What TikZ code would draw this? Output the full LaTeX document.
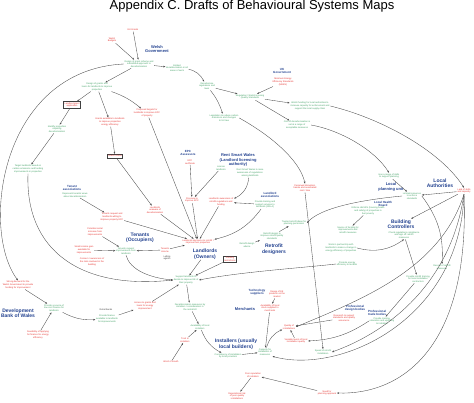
\documentclass[tikz,border=0pt]{standalone}
\usepackage{fontspec}
\setmainfont{Liberation Sans}
\usetikzlibrary{arrows.meta}
\definecolor{cRed}{HTML}{E4322E}
\definecolor{cGrn}{HTML}{3F9F63}
\definecolor{cBlu}{HTML}{22418F}
\definecolor{cLin}{HTML}{4A4A4A}
\begin{document}
\begin{tikzpicture}[x=1pt,y=-1pt,
 gtx/.style={text=cGrn,font=\fontsize{2.3}{2.7}\selectfont,align=center,inner sep=0.6pt},
 rtx/.style={gtx,text=cRed},
 dtx/.style={gtx,text=black!75},
 rbox/.style={rtx,draw=black!75,line width=0.4pt,inner sep=1pt},
 blab/.style={text=cBlu,font=\fontsize{5}{5.5}\selectfont\bfseries,align=center,inner sep=0.5pt},
 bmd/.style={blab,font=\fontsize{4}{4.4}\selectfont\bfseries},
 bsm/.style={blab,font=\fontsize{3}{3.3}\selectfont\bfseries},
 arr/.style={draw=cLin,line width=0.35pt,-{Stealth[length=2.2pt,width=1.7pt]}}]
\useasboundingbox (0,0) rectangle (474,403);
\node[font=\fontsize{13}{13}\selectfont,inner sep=0pt] (title) at (252,6) {Appendix C. Drafts of Behavioural Systems Maps};
% top
\node[rtx] (eu) at (133,30) {EU Grants};
\node[rtx] (wealth) at (112,40) {Welsh\\Budgets};
\node[bmd] (wg) at (157,49) {Welsh\\Government};
\node[gtx] (wg1) at (139,64) {Design of grant scheme and\\subsidised approach to\\decarbonisation};
\node[gtx] (wg2) at (177,68) {Embed\\decarbonisation in all\\areas of work};
\node[gtx] (wg3) at (207,86) {Decarbonise\\regulations and\\laws};
\node[gtx] (reg) at (250,97) {Regulation / Welsh Housing\\Quality Standards};
\node[bsm] (ukg) at (282,71) {UK\\Government};
\node[rtx] (mees) at (283,82) {Minimum Energy\\Efficiency Standards\\(MEES)};
\node[gtx] (fund) at (310,106) {Welsh funding for local authorities to\\increase capacity for enforcement and\\support the local supply chain};
\node[gtx] (cost) at (297,125) {Cost of decarbonisation is\\set at a range of\\acceptable measures};
\node[gtx] (legis) at (224,118) {Legislation to reduce carbon\\emissions and changes\\to UK law};
\node[rtx] (prop) at (147,113) {Proposed targets for\\landlords to improve EPC\\of property};
\node[gtx] (gd) at (97,87) {Design of grants and\\loans for landlords to improve\\properties};
\node[rbox] (rb1) at (72,105) {Landlord grant\\application};
\node[gtx] (idp) at (57,129) {Identify properties\\requiring\\decarbonisation};
\node[rtx] (grants) at (110,122) {Grants available to landlords\\to improve properties\\energy efficiency};
\node[gtx] (tgt) at (28,169) {Target landlords based on\\carbon emissions and funding\\improvements in properties};
\node[rbox] (rb2) at (115,156) {Grant criteria};
% tenants
\node[bsm] (ta) at (72,188) {Tenant\\associations};
\node[gtx] (ta1) at (75,195) {Represent tenants views\\about decarbonisation};
\node[rtx] (tenr) at (112,217) {Tenants request and\\landlords willing to\\improve property EPC};
\node[rtx] (rent) at (95,232) {Potential rental\\increase from\\improvements};
\node[rtx] (space) at (84,250) {Small income gain\\available for\\improvements};
\node[rtx] (concern) at (92,262) {Concern / awareness of\\the risks involved in the\\building};
\node[gtx] (tengr) at (126,251) {Tenants request\\improvements from\\landlords};
\node[blab] (ten) at (140,238) {Tenants\\(Occupiers)};
% landlords
\node[bsm] (epca) at (188,153) {EPC\\Assessors};
\node[rtx] (epc) at (190,162) {EPC\\certificate};
\node[rtx] (press) at (192,200) {Pressure to\\improve EPC};
\node[bmd] (rsw) at (238,160) {Rent Smart Wales\\(Landlord licensing\\authority)};
\node[gtx] (rsw1) at (221,168) {License\\landlords};
\node[gtx] (rsw2) at (250,173) {Rent Smart Wales to raise\\awareness of regulations\\among landlords};
\node[rtx] (lreg) at (221,202) {Landlords awareness of\\retrofit regulations and\\funding};
\node[bsm] (la) at (270,195) {Landlord\\associations};
\node[gtx] (la1) at (265,204.5) {Provide training and\\support services to\\landlords (NRLA)};
\node[rtx] (una) at (155,210) {Landlords\\unaware of\\decarbonisation};
\node[rtx] (hub) at (198,242) {Landlords decisions to retrofit /\\improve their properties};
\node[blab] (lo) at (205,254) {Landlords\\(Owners)};
\node[rtx] (tinc) at (165,250) {Tenants\\income};
\node[dtx] (agents) at (167,258) {Letting\\agents};
\node[rbox] (rb3) at (230,259) {Funding\\restrictions};
% retrofit designers
\node[rtx] (perc) at (305,188) {Perceived disruption,\\hassle and associated\\cost / time};
\node[gtx] (trust) at (294,223) {Trusted retrofit ideas for\\planning permission};
\node[gtx] (rd1) at (272,236) {Retrofit design to\\improve retrofit quality\\standards};
\node[gtx] (rd2) at (247,245) {Retrofit design\\advice};
\node[blab] (rdes) at (274,249) {Retrofit\\designers};
% local authorities
\node[gtx] (lpu1) at (389,176) {Has a range of skills\\to support planning};
\node[bmd] (lpu) at (391,187) {Local\\planning unit};
\node[blab] (laut) at (440,183) {Local\\Authorities};
\node[rtx] (lack) at (464,191) {Lack of skills\\and capacity};
\node[gtx] (lim) at (412,196) {Limited resources\\to enforce\\standards};
\node[bsm] (lhb) at (383,204) {Local Health\\Board};
\node[gtx] (lhb1) at (368,211) {Enforce HHSRS (housing health\\and safety) of properties in\\fuel poverty};
\node[blab] (bc) at (401,224) {Building\\Controllers};
\node[gtx] (bc1) at (404,235) {Check regulations compliance\\and sign off retrofit\\measures};
\node[gtx] (rec) at (442,267) {Record of retrofit\\measures};
\node[gtx] (g3) at (348,230) {Source of funding for\\improvements and\\retrofit measures};
\node[gtx] (g4) at (341,248) {Work in partnership with\\landlords to make a change in\\energy efficiency of properties};
\node[gtx] (g5) at (347,264) {Promote energy\\efficiency to tenants};
% supply chain
\node[bsm] (ts) at (257,292) {Technology\\suppliers};
\node[rtx] (range) at (277,294) {Range of EE\\products on the\\market};
\node[rtx] (avail) at (270,308) {Availability of local\\stock supplied to\\merchants};
\node[bmd] (merch) at (245,309) {Merchants};
\node[bsm] (pdb) at (355,308) {Professional\\design bodies};
\node[rtx] (res) at (344,318) {Research to support\\standards and quality\\assurance};
\node[rtx] (qual) at (289,327) {Quality of\\installations};
\node[rtx] (var) at (296,341) {Variable levels of local\\installation quality};
\node[gtx] (cap) at (265,352) {Capacity for\\installation of\\measures};
\node[gtx] (g6) at (323,352) {Speed of retrofit\\installation};
\node[blab] (inst) at (236,344) {Installers (usually\\local builders)};
\node[gtx] (inst1) at (228,356) {Consistency of installation\\by local providers};
\node[rtx] (poor) at (253,375) {Poor reputation\\of installers};
\node[rtx] (bad) at (237,396) {Reputational risk\\of poor quality\\installations};
\node[rtx] (need) at (327,393) {Need for\\planning approval};
\node[bsm] (ptb) at (377,313) {Professional\\trade bodies};
\node[gtx] (ptb1) at (382,321) {Provide training,\\education and upskilling\\to installers};
\node[gtx] (tr) at (418,279) {Provide retrofit training\\for local installation\\contractors};
% finance
\node[rtx] (sd) at (18,285) {Strong demand for the\\Welsh Government to provide\\funding for improvement};
\node[blab] (dbw) at (18,313) {Development\\Bank of Wales};
\node[gtx] (dbw1) at (54,308) {Provide a source of\\low-cost finance for\\landlords};
\node[rtx] (feas) at (38,335) {Feasibility of applying\\for finance for energy\\efficiency};
\node[dtx] (rbank) at (106,310) {Retail banks};
\node[gtx] (rbank1) at (107,319) {Provide finance\\available to landlords\\for improvements};
\node[gtx] (sup) at (186,280) {Support landlords to\\decide to improve EE of\\their property};
\node[rtx] (acc) at (145,306) {Access to grants and\\loans for energy\\improvement};
\node[gtx] (dec) at (190,307) {Decarbonisation measures by\\installers / consideration in\\the rental bill};
\node[gtx] (loc) at (200,327) {Availability of local\\installers};
\node[rtx] (tin) at (185,340) {Trust in\\installers};
\node[rtx] (wom) at (171,362) {Word of mouth};
% connectors
\draw[arr] (eu) -- (wg1);
\draw[arr] (wealth) -- (wg1);
\draw[arr] (wg1) -- (wg2);
\draw[arr] (wg2) to[bend left=25] (wg3);
\draw[arr] (wg3) -- (reg);
\draw[arr] (wg3) to[bend left=10] (legis);
\draw[arr] (mees) -- (reg);
\draw[arr] (reg) -- (fund);
\draw[arr] (reg) -- (cost);
\draw[arr] (wg1) -- (gd);
\draw[arr] (gd) -- (rb1);
\draw[arr] (rb1) -- (idp);
\draw[arr] (idp) -- (tgt);
\draw[arr] (gd) -- (grants);
\draw[arr] (gd) to[bend left=10] (prop);
\draw[arr] (grants) -- (rb2);
\draw[arr] (rb2) -- (una);
\draw[arr] (prop) -- (hub);
\draw[arr] (una) -- (hub);
\draw[arr] (epc) -- (press);
\draw[arr] (rsw1) -- (press);
\draw[arr] (press) -- (hub);
\draw[arr] (rsw2) to[bend left=30] (lreg);
\draw[arr] (la1) -- (lreg);
\draw[arr] (lreg) -- (hub);
\draw[arr] (la1) to[bend left=20] (hub);
\draw[arr] (ta1) -- (tenr);
\draw[arr] (tenr) -- (hub);
\draw[arr] (tinc) -- (tengr);
\draw[arr] (tinc) -- (hub);
\draw[arr] (rent) -- (tengr);
\draw[arr] (space) -- (tengr);
\draw[arr] (wg1.west) .. controls (0,70) and (-20,230) .. (sd.north);
\draw[arr] (tgt.south) .. controls (25,250) and (80,290) .. (sup.west);
\draw[arr] (tengr.south) .. controls (130,270) and (150,278) .. (sup.west);
\draw[arr] (sd) -- (dbw1);
\draw[arr] (feas) -- (dbw1);
\draw[arr] (dbw1) to[bend right=15] (rbank1);
\draw[arr] (rbank1) -- (acc);
\draw[arr] (acc) -- (sup);
\draw[arr] (lo) -- (sup);
\draw[arr] (rb3) -- (sup);
\draw[arr] (g5.west) .. controls (300,268) and (240,272) .. (sup.east);
\draw[arr] (sup) -- (dec);
\draw[arr] (dec) -- (loc);
\draw[arr] (tin) -- (loc);
\draw[arr] (wom) -- (tin);
\draw[arr] (loc) to[bend right=20] (inst1);
\draw[arr] (inst1) -- (cap);
\draw[arr] (cap) to[bend left=25] (qual);
\draw[arr] (var) -- (qual);
\draw[arr] (avail) -- (cap);
\draw[arr] (range) -- (avail);
\draw[arr] (res) -- (qual);
\draw[arr] (ptb1.west) to[bend left=15] (var.east);
\draw[arr] (tr) -- (ptb1);
\draw[arr] (legis.east) .. controls (270,135) and (300,160) .. (perc.north);
\draw[arr] (perc.south) -- (g6.north);
\draw[arr] (fund.east) .. controls (380,118) and (440,150) .. (lack.north);
\draw[arr] (cost.east) .. controls (340,130) and (375,150) .. (lpu1.north);
\draw[arr] (lpu1) -- (lim);
\draw[arr] (lack) -- (lim);
\draw[arr] (lack) -- (bc);
\draw[arr] (lim.east) to[bend left=20] (rec.north);
\draw[arr] (lim.west) .. controls (360,200) and (320,208) .. (trust.east);
\draw[arr] (rd1) -- (trust);
\draw[arr] (rd2) -- (rd1);
\draw[arr] (lhb1) -- (g3);
\draw[arr] (g4.east) to[bend right=25] (bc1.south);
\draw[arr] (bc1) -- (tr);
\draw[arr] (lack.south) .. controls (440,270) and (360,300) .. (qual.east);
\draw[arr] (lack.south) .. controls (450,290) and (380,335) .. (g6.east);
\draw[arr] (lack.south) .. controls (460,320) and (340,375) .. (cap.south east);
\draw[arr] (lack.south) .. controls (470,350) and (400,395) .. (need.east);
\draw[arr] (need) -- (poor);
\draw[arr] (poor) -- (bad);
\end{tikzpicture}
\end{document}
